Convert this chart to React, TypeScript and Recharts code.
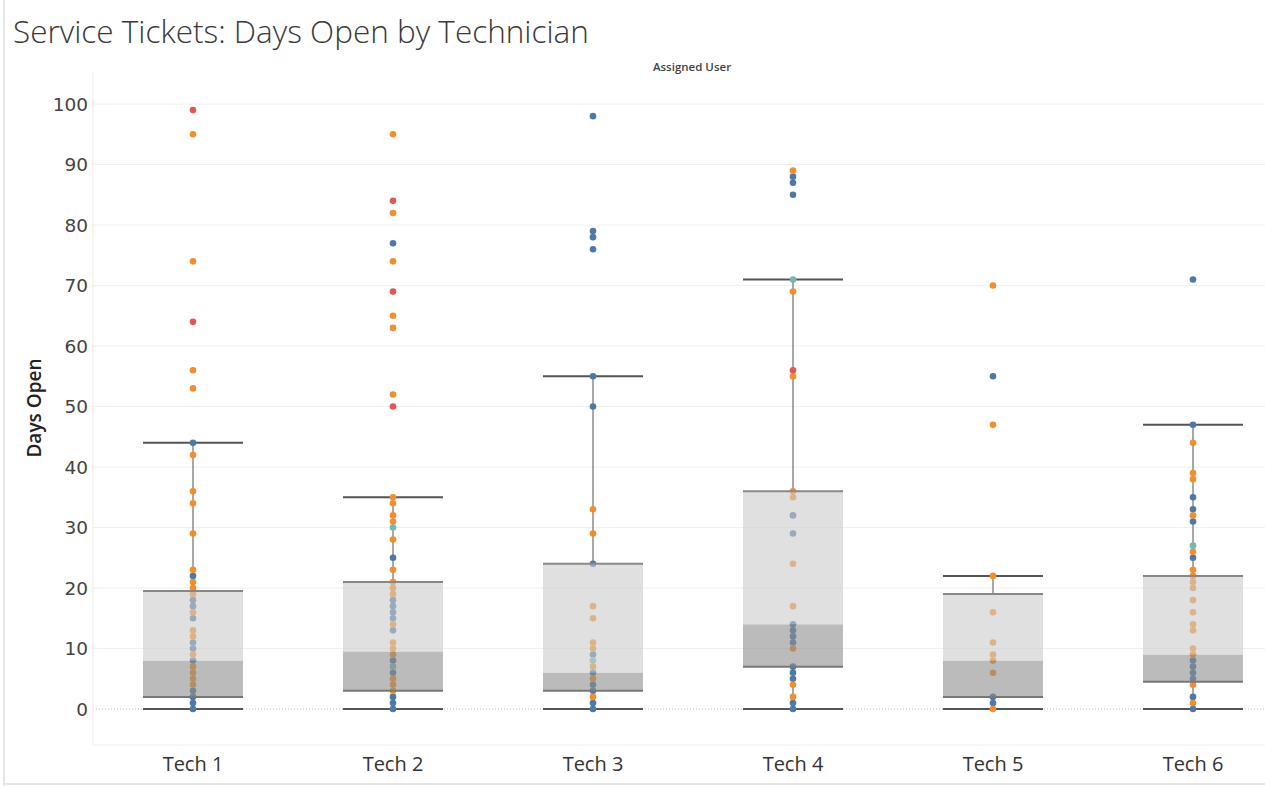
import React from 'react';
import { ComposedChart, Bar, Scatter, XAxis, YAxis, CartesianGrid, ReferenceLine } from 'recharts';

const techs = ['Tech 1', 'Tech 2', 'Tech 3', 'Tech 4', 'Tech 5', 'Tech 6'];

// Box plot statistics per technician
const lowerWhisker = [0, 0, 0, 0, 0, 0];
const q1 = [2, 3, 3, 7, 2, 4.5];
const median = [8, 9.5, 6, 14, 8, 9];
const q3 = [19.5, 21, 24, 36, 19, 22];
const upperWhisker = [44, 35, 55, 71, 22, 47];

// Individual tickets (days open) per technician, grouped by mark colour
const blueDays = [
  [44, 22, 18, 17, 15, 11, 10, 8, 3, 2, 1, 0],
  [77, 25, 18, 17, 16, 15, 13, 8, 6, 2, 1, 0],
  [98, 79, 78, 76, 55, 50, 24, 9, 6, 4, 3, 1, 0],
  [88, 87, 85, 32, 29, 14, 13, 12, 11, 7, 6, 5, 1, 0],
  [55, 2, 1],
  [71, 47, 35, 33, 31, 25, 8, 7, 6, 5, 2, 0],
];
const orangeDays = [
  [95, 74, 56, 53, 42, 36, 34, 29, 23, 21, 20, 19, 16, 13, 12, 9, 7, 6, 5, 4],
  [95, 82, 74, 65, 63, 52, 35, 34, 32, 31, 28, 23, 21, 20, 19, 14, 11, 10, 9, 5, 4, 3],
  [33, 29, 17, 15, 11, 10, 7, 5, 2],
  [89, 69, 55, 36, 35, 24, 17, 10, 4, 2],
  [70, 47, 22, 16, 11, 9, 8, 6, 0],
  [44, 39, 38, 32, 26, 23, 22, 21, 20, 18, 16, 14, 13, 10, 9, 4, 1],
];
const redDays = [
  [99, 64],
  [84, 69, 50],
  [],
  [56],
  [],
  [],
];
const tealDays = [
  [],
  [30, 7],
  [8],
  [71],
  [],
  [27],
];

const yTicks = [0, 10, 20, 30, 40, 50, 60, 70, 80, 90, 100];
const gridValues = [10, 20, 30, 40, 50, 60, 70, 80, 90, 100];

const BLUE = '#4e79a7';
const ORANGE = '#f28e2b';
const RED = '#e15759';
const TEAL = '#76b7b2';

const boxData = techs.map((tech, i) => ({
  tech,
  base: q1[i],
  lowerBox: median[i] - q1[i],
  upperBox: q3[i] - median[i],
  whisker: [lowerWhisker[i], upperWhisker[i]],
  lo: lowerWhisker[i],
  hi: upperWhisker[i],
  q1: q1[i],
  q3: q3[i],
}));

const toPoints = (series: number[][]) =>
  series.flatMap((vals, i) => vals.map((days) => ({ tech: techs[i], days })));

const bluePts = toPoints(blueDays);
const orangePts = toPoints(orangeDays);
const redPts = toPoints(redDays);
const tealPts = toPoints(tealDays);

const WhiskerShape = (props: any) => {
  const { x, y, width, height, payload } = props;
  if (x == null || y == null || !payload) return null;
  const lo = payload.lo;
  const hi = payload.hi;
  const k = hi - lo !== 0 ? height / (hi - lo) : 0;
  const yQ3 = y + (hi - payload.q3) * k;
  const yQ1 = y + (hi - payload.q1) * k;
  const cx = x + width / 2;
  const bottom = y + height;
  return (
    <g>
      <line x1={cx} x2={cx} y1={y} y2={yQ3} stroke="#6e6e6e" strokeWidth={1.2} />
      <line x1={cx} x2={cx} y1={yQ1} y2={bottom} stroke="#6e6e6e" strokeWidth={1.2} />
      <rect x={x} y={bottom - 1} width={width} height={2} fill="#fff" />
      <line x1={x} x2={x + width} y1={y} y2={y} stroke="#555" strokeWidth={2} />
      <line x1={x} x2={x + width} y1={bottom} y2={bottom} stroke="#555" strokeWidth={2} />
    </g>
  );
};

const LowerBoxShape = (props: any) => {
  const { x, y, width, height } = props;
  if (x == null || y == null) return null;
  return (
    <g>
      <rect x={x} y={y} width={width} height={height} fill="rgb(142,142,142)" fillOpacity={0.6} />
      <line x1={x} x2={x + width} y1={y + height} y2={y + height} stroke="#777" strokeWidth={2} />
    </g>
  );
};

const UpperBoxShape = (props: any) => {
  const { x, y, width, height } = props;
  if (x == null || y == null) return null;
  return (
    <g>
      <rect x={x} y={y} width={width} height={height} fill="rgb(203,203,203)" fillOpacity={0.6} />
      <line x1={x} x2={x + width} y1={y} y2={y} stroke="#888" strokeWidth={2} />
    </g>
  );
};

const EmptyShape = () => null;

const dot = (color: string) => (props: any) => {
  const { cx, cy } = props;
  if (cx == null || cy == null) return null;
  return <circle cx={cx} cy={cy} r={3.3} fill={color} />;
};

export default function App() {
  return (
    <div
      style={{
        position: 'absolute',
        left: 0,
        top: 0,
        width: 1265,
        height: 787,
        overflow: 'hidden',
        background: '#fff',
        fontFamily: '"Open Sans", sans-serif',
      }}
    >
      <div style={{ position: 'absolute', left: 3, top: 0, width: 2, height: 786, background: '#e6e6e6' }} />
      <div style={{ position: 'absolute', left: 3, top: 783, width: 1262, height: 2, background: '#e6e6e6' }} />
      <div
        style={{
          position: 'absolute',
          left: 13,
          top: 9,
          fontSize: 31.5,
          fontWeight: 300,
          color: '#3a3a3a',
          whiteSpace: 'nowrap',
          lineHeight: 'normal',
        }}
      >
        Service Tickets: Days Open by Technician
      </div>
      <div
        style={{
          position: 'absolute',
          left: 692,
          top: 66,
          transform: 'translate(-50%, -50%)',
          fontSize: 11.5,
          fontWeight: 600,
          color: '#444',
          whiteSpace: 'nowrap',
        }}
      >
        Assigned User
      </div>
      <div
        style={{
          position: 'absolute',
          left: 34,
          top: 408,
          transform: 'translate(-50%, -50%) rotate(-90deg)',
          fontSize: 19,
          fontWeight: 600,
          color: '#222',
          whiteSpace: 'nowrap',
        }}
      >
        Days Open
      </div>
      <div style={{ position: 'absolute', left: 0, top: 0 }}>
        <ComposedChart
          width={1300}
          height={787}
          data={boxData}
          margin={{ top: 72, right: 7, bottom: 2, left: 0 }}
        >
          <CartesianGrid vertical={false} stroke="#f0f0f0" horizontalValues={gridValues} />
          <XAxis
            dataKey="tech"
            type="category"
            allowDuplicatedCategory={false}
            height={40}
            tickLine={false}
            tickSize={6}
            tickMargin={6}
            axisLine={{ stroke: '#ececec' }}
            tick={{ fontSize: 20, fill: '#333', fontFamily: '"Open Sans", sans-serif' }}
            interval={0}
          />
          <XAxis xAxisId="w" dataKey="tech" type="category" allowDuplicatedCategory={false} hide />
          <YAxis
            type="number"
            width={93}
            domain={[-5.95, 105.3]}
            ticks={yTicks}
            allowDataOverflow
            tickLine={false}
            tickSize={3}
            tickMargin={2}
            axisLine={{ stroke: '#ececec' }}
            tick={{ fontSize: 18.5, fill: '#444', fontFamily: '"DejaVu Sans", sans-serif' }}
            interval={0}
          />
          <ReferenceLine y={0} stroke="#bdbdbd" strokeDasharray="1 2" zIndex={-50} />
          <Bar
            xAxisId="w"
            dataKey="whisker"
            barSize={100}
            shape={<WhiskerShape />}
            isAnimationActive={false}
            zIndex={250}
          />
          <Scatter data={bluePts} dataKey="days" shape={dot(BLUE)} isAnimationActive={false} />
          <Scatter data={orangePts} dataKey="days" shape={dot(ORANGE)} isAnimationActive={false} />
          <Scatter data={redPts} dataKey="days" shape={dot(RED)} isAnimationActive={false} />
          <Scatter data={tealPts} dataKey="days" shape={dot(TEAL)} isAnimationActive={false} />
          <Bar dataKey="base" stackId="box" barSize={100} shape={<EmptyShape />} isAnimationActive={false} zIndex={650} />
          <Bar dataKey="lowerBox" stackId="box" barSize={100} shape={<LowerBoxShape />} isAnimationActive={false} zIndex={650} />
          <Bar dataKey="upperBox" stackId="box" barSize={100} shape={<UpperBoxShape />} isAnimationActive={false} zIndex={650} />
        </ComposedChart>
      </div>
    </div>
  );
}
